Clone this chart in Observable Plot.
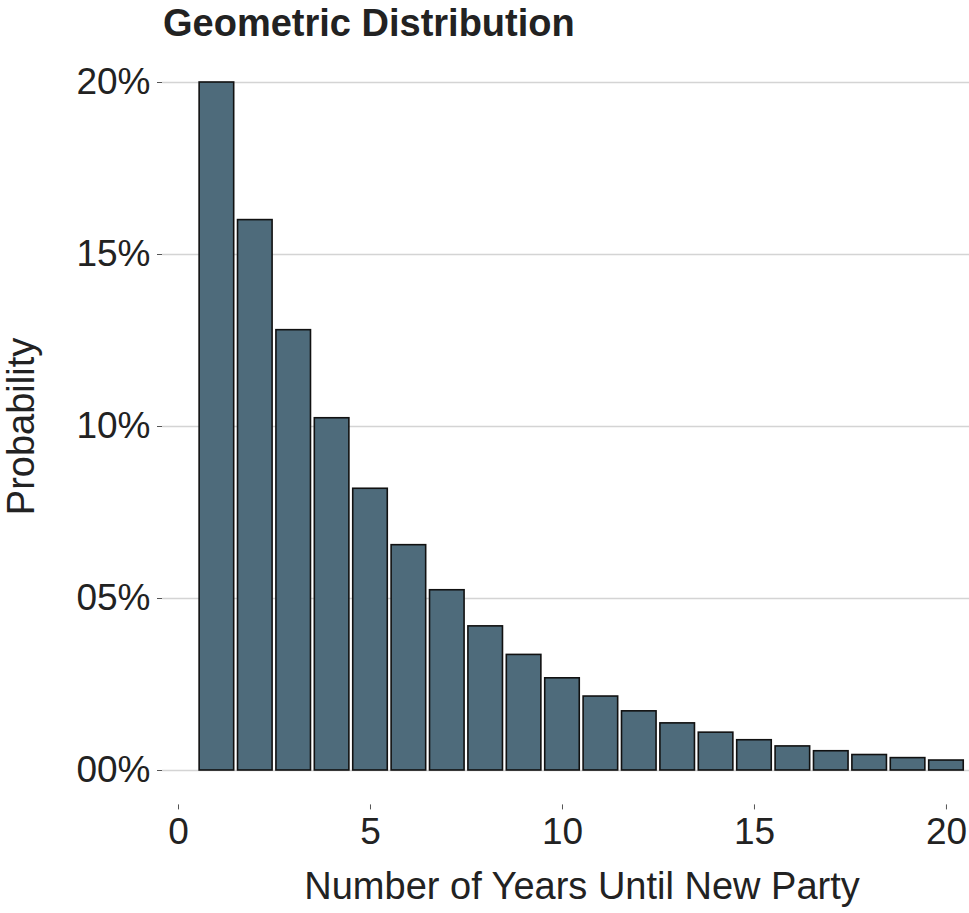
<!DOCTYPE html>
<html>
<head>
<meta charset="utf-8">
<script src="https://cdn.jsdelivr.net/npm/d3@7"></script>
<script src="https://cdn.jsdelivr.net/npm/@observablehq/plot@0.6"></script>
<style>
  html, body { margin: 0; padding: 0; background: #fff; overflow: hidden; }
  #wrap { position: relative; width: 969px; height: 913px; }
  #title { position: absolute; left: 163px; top: 1px; font-family: "Liberation Sans", Arial, sans-serif;
           font-weight: bold; font-size: 38px; line-height: 44px; color: #222; white-space: nowrap; }
  svg { font-family: "Liberation Sans", Arial, sans-serif; }
</style>
</head>
<body>
<div id="wrap">
  <div id="title">Geometric Distribution</div>
  <div id="chart"></div>
</div>
<script>
const years = [1, 2, 3, 4, 5, 6, 7, 8, 9, 10, 11, 12, 13, 14, 15, 16, 17, 18, 19, 20];
const probs = [20, 16, 12.8, 10.24, 8.19, 6.55, 5.24, 4.19, 3.36, 2.68, 2.15, 1.72, 1.37, 1.1, 0.88, 0.7, 0.56, 0.45, 0.36, 0.29];
const yTicks = [0, 5, 10, 15, 20];
const yTickLabels = ["00%", "05%", "10%", "15%", "20%"];
const xTicks = [0, 5, 10, 15, 20];
const xTitle = "Number of Years Until New Party";
const yTitle = "Probability";

const data = years.map((k, i) => ({k, p: probs[i]}));
const barHalf = 0.45;

const chart = Plot.plot({
  width: 969,
  height: 913,
  marginTop: 47.6,
  marginBottom: 108.6,
  marginLeft: 162,
  marginRight: 0,
  style: {fontFamily: "Liberation Sans, Arial, sans-serif", background: "#fff"},
  x: {domain: [-0.417, 20.6]},
  y: {domain: [-1, 21]},
  marks: [
    Plot.ruleY(yTicks, {stroke: "#d4d4d4", strokeWidth: 1.6}),
    Plot.axisY(yTicks, {
      tickFormat: (d) => yTickLabels[yTicks.indexOf(d)],
      tickSize: 5, tickPadding: 7, fontSize: 37, stroke: "#555", fill: "#222",
      label: null
    }),
    Plot.axisX(xTicks, {
      tickSize: 5, tickPadding: 8, fontSize: 37, stroke: "#555", fill: "#222",
      label: null
    }),
    Plot.rectY(data, {
      x1: (d) => d.k - barHalf, x2: (d) => d.k + barHalf,
      y1: 0, y2: "p",
      fill: "#4e6b7b", stroke: "#111", strokeWidth: 1.6
    }),
    Plot.text([xTitle], {
      frameAnchor: "bottom", text: (d) => d, dx: 16, dy: 82,
      lineAnchor: "middle", fontSize: 38, fill: "#222"
    }),
    Plot.text([yTitle], {
      frameAnchor: "left", text: (d) => d, dx: -141, rotate: -90,
      textAnchor: "middle", lineAnchor: "middle", fontSize: 38, fill: "#222"
    })
  ]
});
document.getElementById("chart").appendChild(chart);
</script>
</body>
</html>
